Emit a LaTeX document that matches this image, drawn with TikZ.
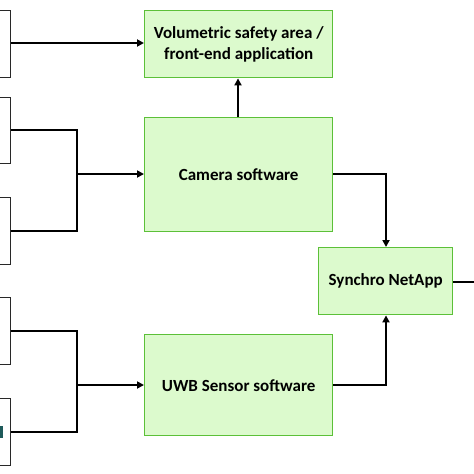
\documentclass[tikz,border=0pt]{standalone}
\usepackage{fontspec}
\setmainfont{Carlito}
\usetikzlibrary{arrows.meta}
\definecolor{boxfill}{RGB}{220,250,205}
\definecolor{boxline}{RGB}{92,192,56}
\definecolor{leftline}{RGB}{40,40,40}
\definecolor{tealmark}{RGB}{30,90,90}
\begin{document}
\begin{tikzpicture}[x=1pt,y=-1pt,
  greenbox/.style={draw=boxline,fill=boxfill,line width=1.4pt,anchor=north west,inner sep=0pt,
    font=\fontsize{17}{21}\selectfont\bfseries,align=center},
  srcbox/.style={draw=leftline,line width=1.4pt,anchor=north west,inner sep=0pt},
  conn/.style={line width=2pt,black},
  arr/.style={conn,-{Triangle[length=7pt,width=7pt]}}]
\useasboundingbox (0,0) rectangle (474,474);
\clip (0,0) rectangle (474,474);
% source boxes at the left edge (cut off)
\node[srcbox,minimum width=40pt,minimum height=67pt] (s1) at (-30,10) {};
\node[srcbox,minimum width=40pt,minimum height=66pt] (s2) at (-30,97) {};
\node[srcbox,minimum width=40pt,minimum height=67pt] (s3) at (-30,197) {};
\node[srcbox,minimum width=40pt,minimum height=67pt] (s4) at (-30,297) {};
\node[srcbox,minimum width=40pt,minimum height=67pt] (s5) at (-30,398) {};
\fill[tealmark] (0,426) rectangle (3,438);
% green boxes
\node[greenbox,minimum width=188pt,minimum height=67pt] (vol) at (144,10) {Volumetric safety area /\\front-end application};
\node[greenbox,minimum width=188pt,minimum height=114pt] (cam) at (144,117) {Camera software};
\node[greenbox,minimum width=188pt,minimum height=101pt] (uwb) at (144,334) {UWB Sensor software};
\node[greenbox,minimum width=134pt,minimum height=67pt] (syn) at (318,247) {Synchro NetApp};
% junction coordinates
\coordinate (j1) at (77,174);
\coordinate (j2) at (77,385);
\coordinate (c1) at (386,174);
\coordinate (c2) at (386,385);
\coordinate (out) at (480,282);
% connectors
\draw[arr] (s1.east |- 0,43) -- (vol.west |- 0,43);
\draw[conn] (s2.east |- 0,130) -| (j1);
\draw[conn] (s3.east |- 0,231) -| (j1);
\draw[arr] (j1) -- (cam.west |- j1);
\draw[conn] (s4.east |- 0,331) -| (j2);
\draw[conn] (s5.east |- 0,432) -| (j2);
\draw[arr] (j2) -- (uwb.west |- j2);
\draw[arr] (cam.north -| 238,0) -- (vol.south -| 238,0);
\draw[arr] (cam.east |- c1) -- (c1) -- (syn.north -| c1);
\draw[arr] (uwb.east |- c2) -- (c2) -- (syn.south -| c2);
\draw[conn] (syn.east |- out) -- (out);
\end{tikzpicture}
\end{document}
